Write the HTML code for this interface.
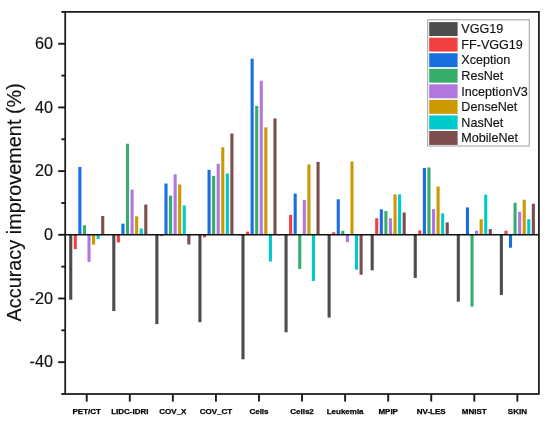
<!DOCTYPE html><html><head><meta charset="utf-8"><title>Accuracy improvement</title><style>
html,body{margin:0;padding:0;background:#fff;width:550px;height:423px;overflow:hidden}
svg{display:block}
text{font-family:"Liberation Sans",Arial,sans-serif;fill:#111;stroke:#111;stroke-width:0.15}
</style></head><body>
<svg width="550" height="423" viewBox="0 0 550 423">
<rect width="550" height="423" fill="#fff"/>
<g shape-rendering="auto">
<rect x="69.19" y="234.80" width="3.1" height="64.96" fill="#4D4D4D"/>
<rect x="73.76" y="234.80" width="3.1" height="14.33" fill="#F14040"/>
<rect x="78.33" y="166.98" width="3.1" height="67.82" fill="#1A6FDF"/>
<rect x="82.90" y="225.25" width="3.1" height="9.55" fill="#37AD6B"/>
<rect x="87.47" y="234.80" width="3.1" height="27.07" fill="#B177DE"/>
<rect x="92.04" y="234.80" width="3.1" height="9.87" fill="#CC9900"/>
<rect x="96.61" y="234.80" width="3.1" height="4.30" fill="#00CBCC"/>
<rect x="101.18" y="216.01" width="3.1" height="18.79" fill="#7D4E4E"/>
<rect x="112.25" y="234.80" width="3.1" height="76.26" fill="#4D4D4D"/>
<rect x="116.82" y="234.80" width="3.1" height="7.64" fill="#F14040"/>
<rect x="121.39" y="223.66" width="3.1" height="11.14" fill="#1A6FDF"/>
<rect x="125.96" y="143.73" width="3.1" height="91.07" fill="#37AD6B"/>
<rect x="130.53" y="189.58" width="3.1" height="45.22" fill="#B177DE"/>
<rect x="135.10" y="216.33" width="3.1" height="18.47" fill="#CC9900"/>
<rect x="139.67" y="228.43" width="3.1" height="6.37" fill="#00CBCC"/>
<rect x="144.24" y="204.55" width="3.1" height="30.25" fill="#7D4E4E"/>
<rect x="155.31" y="234.80" width="3.1" height="89.32" fill="#4D4D4D"/>
<rect x="159.88" y="234.80" width="3.1" height="1.27" fill="#F14040"/>
<rect x="164.45" y="183.53" width="3.1" height="51.27" fill="#1A6FDF"/>
<rect x="169.02" y="195.63" width="3.1" height="39.17" fill="#37AD6B"/>
<rect x="173.59" y="174.30" width="3.1" height="60.50" fill="#B177DE"/>
<rect x="178.16" y="184.49" width="3.1" height="50.31" fill="#CC9900"/>
<rect x="182.73" y="205.51" width="3.1" height="29.29" fill="#00CBCC"/>
<rect x="187.30" y="234.80" width="3.1" height="9.71" fill="#7D4E4E"/>
<rect x="198.38" y="234.80" width="3.1" height="87.41" fill="#4D4D4D"/>
<rect x="202.95" y="234.80" width="3.1" height="2.55" fill="#F14040"/>
<rect x="207.52" y="169.84" width="3.1" height="64.96" fill="#1A6FDF"/>
<rect x="212.09" y="175.89" width="3.1" height="58.91" fill="#37AD6B"/>
<rect x="216.66" y="163.79" width="3.1" height="71.01" fill="#B177DE"/>
<rect x="221.23" y="147.24" width="3.1" height="87.56" fill="#CC9900"/>
<rect x="225.80" y="173.50" width="3.1" height="61.30" fill="#00CBCC"/>
<rect x="230.37" y="133.54" width="3.1" height="101.26" fill="#7D4E4E"/>
<rect x="241.44" y="234.80" width="3.1" height="124.50" fill="#4D4D4D"/>
<rect x="246.01" y="231.62" width="3.1" height="3.18" fill="#F14040"/>
<rect x="250.58" y="58.72" width="3.1" height="176.08" fill="#1A6FDF"/>
<rect x="255.15" y="105.84" width="3.1" height="128.96" fill="#37AD6B"/>
<rect x="259.72" y="80.69" width="3.1" height="154.11" fill="#B177DE"/>
<rect x="264.29" y="127.33" width="3.1" height="107.47" fill="#CC9900"/>
<rect x="268.86" y="234.80" width="3.1" height="26.75" fill="#00CBCC"/>
<rect x="273.43" y="118.42" width="3.1" height="116.38" fill="#7D4E4E"/>
<rect x="284.50" y="234.80" width="3.1" height="97.44" fill="#4D4D4D"/>
<rect x="289.07" y="214.90" width="3.1" height="19.90" fill="#F14040"/>
<rect x="293.64" y="193.57" width="3.1" height="41.23" fill="#1A6FDF"/>
<rect x="298.21" y="234.80" width="3.1" height="34.23" fill="#37AD6B"/>
<rect x="302.79" y="200.09" width="3.1" height="34.71" fill="#B177DE"/>
<rect x="307.36" y="164.43" width="3.1" height="70.37" fill="#CC9900"/>
<rect x="311.93" y="234.80" width="3.1" height="46.17" fill="#00CBCC"/>
<rect x="316.50" y="161.88" width="3.1" height="72.92" fill="#7D4E4E"/>
<rect x="327.57" y="234.80" width="3.1" height="82.79" fill="#4D4D4D"/>
<rect x="332.14" y="232.25" width="3.1" height="2.55" fill="#F14040"/>
<rect x="336.71" y="199.30" width="3.1" height="35.50" fill="#1A6FDF"/>
<rect x="341.28" y="230.82" width="3.1" height="3.98" fill="#37AD6B"/>
<rect x="345.85" y="234.80" width="3.1" height="7.32" fill="#B177DE"/>
<rect x="350.42" y="161.56" width="3.1" height="73.24" fill="#CC9900"/>
<rect x="354.99" y="234.80" width="3.1" height="34.87" fill="#00CBCC"/>
<rect x="359.56" y="234.80" width="3.1" height="39.96" fill="#7D4E4E"/>
<rect x="370.63" y="234.80" width="3.1" height="35.50" fill="#4D4D4D"/>
<rect x="375.20" y="218.24" width="3.1" height="16.56" fill="#F14040"/>
<rect x="379.77" y="209.33" width="3.1" height="25.47" fill="#1A6FDF"/>
<rect x="384.34" y="211.08" width="3.1" height="23.72" fill="#37AD6B"/>
<rect x="388.91" y="218.24" width="3.1" height="16.56" fill="#B177DE"/>
<rect x="393.48" y="194.36" width="3.1" height="40.44" fill="#CC9900"/>
<rect x="398.05" y="194.36" width="3.1" height="40.44" fill="#00CBCC"/>
<rect x="402.62" y="212.51" width="3.1" height="22.29" fill="#7D4E4E"/>
<rect x="413.70" y="234.80" width="3.1" height="43.15" fill="#4D4D4D"/>
<rect x="418.27" y="230.34" width="3.1" height="4.46" fill="#F14040"/>
<rect x="422.84" y="167.93" width="3.1" height="66.87" fill="#1A6FDF"/>
<rect x="427.41" y="167.45" width="3.1" height="67.35" fill="#37AD6B"/>
<rect x="431.98" y="209.01" width="3.1" height="25.79" fill="#B177DE"/>
<rect x="436.55" y="186.56" width="3.1" height="48.24" fill="#CC9900"/>
<rect x="441.12" y="213.31" width="3.1" height="21.49" fill="#00CBCC"/>
<rect x="445.69" y="222.38" width="3.1" height="12.42" fill="#7D4E4E"/>
<rect x="456.76" y="234.80" width="3.1" height="66.87" fill="#4D4D4D"/>
<rect x="461.33" y="233.84" width="3.1" height="0.96" fill="#F14040"/>
<rect x="465.90" y="207.42" width="3.1" height="27.38" fill="#1A6FDF"/>
<rect x="470.47" y="234.80" width="3.1" height="71.80" fill="#37AD6B"/>
<rect x="475.04" y="230.66" width="3.1" height="4.14" fill="#B177DE"/>
<rect x="479.61" y="219.20" width="3.1" height="15.60" fill="#CC9900"/>
<rect x="484.18" y="194.68" width="3.1" height="40.12" fill="#00CBCC"/>
<rect x="488.75" y="229.07" width="3.1" height="5.73" fill="#7D4E4E"/>
<rect x="499.82" y="234.80" width="3.1" height="60.18" fill="#4D4D4D"/>
<rect x="504.39" y="230.66" width="3.1" height="4.14" fill="#F14040"/>
<rect x="508.96" y="234.80" width="3.1" height="12.90" fill="#1A6FDF"/>
<rect x="513.53" y="202.80" width="3.1" height="32.00" fill="#37AD6B"/>
<rect x="518.10" y="211.71" width="3.1" height="23.09" fill="#B177DE"/>
<rect x="522.67" y="199.77" width="3.1" height="35.03" fill="#CC9900"/>
<rect x="527.24" y="219.20" width="3.1" height="15.60" fill="#00CBCC"/>
<rect x="531.81" y="203.75" width="3.1" height="31.05" fill="#7D4E4E"/>
</g>
<line x1="65.2" y1="234.8" x2="538.9" y2="234.8" stroke="#111" stroke-width="1.6"/>
<rect x="65.2" y="11.9" width="473.70" height="382.10" fill="none" stroke="#1a1a1a" stroke-width="1.75"/>
<line x1="61.40" y1="394.01" x2="65.2" y2="394.01" stroke="#1a1a1a" stroke-width="1.9"/>
<line x1="58.20" y1="362.17" x2="65.2" y2="362.17" stroke="#1a1a1a" stroke-width="1.9"/>
<text x="53" y="367.37" font-size="16.2" text-anchor="end">-40</text>
<line x1="61.40" y1="330.33" x2="65.2" y2="330.33" stroke="#1a1a1a" stroke-width="1.9"/>
<line x1="58.20" y1="298.48" x2="65.2" y2="298.48" stroke="#1a1a1a" stroke-width="1.9"/>
<text x="53" y="303.68" font-size="16.2" text-anchor="end">-20</text>
<line x1="61.40" y1="266.64" x2="65.2" y2="266.64" stroke="#1a1a1a" stroke-width="1.9"/>
<line x1="58.20" y1="234.80" x2="65.2" y2="234.80" stroke="#1a1a1a" stroke-width="1.9"/>
<text x="53" y="240.00" font-size="16.2" text-anchor="end">0</text>
<line x1="61.40" y1="202.96" x2="65.2" y2="202.96" stroke="#1a1a1a" stroke-width="1.9"/>
<line x1="58.20" y1="171.12" x2="65.2" y2="171.12" stroke="#1a1a1a" stroke-width="1.9"/>
<text x="53" y="176.32" font-size="16.2" text-anchor="end">20</text>
<line x1="61.40" y1="139.28" x2="65.2" y2="139.28" stroke="#1a1a1a" stroke-width="1.9"/>
<line x1="58.20" y1="107.43" x2="65.2" y2="107.43" stroke="#1a1a1a" stroke-width="1.9"/>
<text x="53" y="112.63" font-size="16.2" text-anchor="end">40</text>
<line x1="61.40" y1="75.59" x2="65.2" y2="75.59" stroke="#1a1a1a" stroke-width="1.9"/>
<line x1="58.20" y1="43.75" x2="65.2" y2="43.75" stroke="#1a1a1a" stroke-width="1.9"/>
<text x="53" y="48.95" font-size="16.2" text-anchor="end">60</text>
<line x1="61.40" y1="11.91" x2="65.2" y2="11.91" stroke="#1a1a1a" stroke-width="1.9"/>
<line x1="86.73" y1="394.0" x2="86.73" y2="401.6" stroke="#1a1a1a" stroke-width="1.9"/>
<text x="86.73" y="414.2" font-size="8" font-weight="bold" text-anchor="middle" style="fill:#000;stroke:#000;stroke-width:0.25">PET/CT</text>
<line x1="129.80" y1="394.0" x2="129.80" y2="401.6" stroke="#1a1a1a" stroke-width="1.9"/>
<text x="129.80" y="414.2" font-size="8" font-weight="bold" text-anchor="middle" style="fill:#000;stroke:#000;stroke-width:0.25">LIDC-IDRI</text>
<line x1="172.86" y1="394.0" x2="172.86" y2="401.6" stroke="#1a1a1a" stroke-width="1.9"/>
<text x="172.86" y="414.2" font-size="8" font-weight="bold" text-anchor="middle" style="fill:#000;stroke:#000;stroke-width:0.25">COV_X</text>
<line x1="215.92" y1="394.0" x2="215.92" y2="401.6" stroke="#1a1a1a" stroke-width="1.9"/>
<text x="215.92" y="414.2" font-size="8" font-weight="bold" text-anchor="middle" style="fill:#000;stroke:#000;stroke-width:0.25">COV_CT</text>
<line x1="258.99" y1="394.0" x2="258.99" y2="401.6" stroke="#1a1a1a" stroke-width="1.9"/>
<text x="258.99" y="414.2" font-size="8" font-weight="bold" text-anchor="middle" style="fill:#000;stroke:#000;stroke-width:0.25">Cells</text>
<line x1="302.05" y1="394.0" x2="302.05" y2="401.6" stroke="#1a1a1a" stroke-width="1.9"/>
<text x="302.05" y="414.2" font-size="8" font-weight="bold" text-anchor="middle" style="fill:#000;stroke:#000;stroke-width:0.25">Cells2</text>
<line x1="345.11" y1="394.0" x2="345.11" y2="401.6" stroke="#1a1a1a" stroke-width="1.9"/>
<text x="345.11" y="414.2" font-size="8" font-weight="bold" text-anchor="middle" style="fill:#000;stroke:#000;stroke-width:0.25">Leukemia</text>
<line x1="388.18" y1="394.0" x2="388.18" y2="401.6" stroke="#1a1a1a" stroke-width="1.9"/>
<text x="388.18" y="414.2" font-size="8" font-weight="bold" text-anchor="middle" style="fill:#000;stroke:#000;stroke-width:0.25">MPIP</text>
<line x1="431.24" y1="394.0" x2="431.24" y2="401.6" stroke="#1a1a1a" stroke-width="1.9"/>
<text x="431.24" y="414.2" font-size="8" font-weight="bold" text-anchor="middle" style="fill:#000;stroke:#000;stroke-width:0.25">NV-LES</text>
<line x1="474.30" y1="394.0" x2="474.30" y2="401.6" stroke="#1a1a1a" stroke-width="1.9"/>
<text x="474.30" y="414.2" font-size="8" font-weight="bold" text-anchor="middle" style="fill:#000;stroke:#000;stroke-width:0.25">MNIST</text>
<line x1="517.37" y1="394.0" x2="517.37" y2="401.6" stroke="#1a1a1a" stroke-width="1.9"/>
<text x="517.37" y="414.2" font-size="8" font-weight="bold" text-anchor="middle" style="fill:#000;stroke:#000;stroke-width:0.25">SKIN</text>
<text transform="translate(21.1,321.4) rotate(-90)" font-size="19.85">Accuracy improvement (%)</text>
<rect x="427.7" y="19.8" width="101.6" height="126.2" fill="#fff" stroke="#a0a0a0" stroke-width="1"/>
<rect x="429.2" y="22.10" width="28.4" height="13.9" fill="#4D4D4D"/>
<text x="461.3" y="33.30" font-size="12.6">VGG19</text>
<rect x="429.2" y="37.66" width="28.4" height="13.9" fill="#F14040"/>
<text x="461.3" y="48.86" font-size="12.6">FF-VGG19</text>
<rect x="429.2" y="53.22" width="28.4" height="13.9" fill="#1A6FDF"/>
<text x="461.3" y="64.42" font-size="12.6">Xception</text>
<rect x="429.2" y="68.78" width="28.4" height="13.9" fill="#37AD6B"/>
<text x="461.3" y="79.98" font-size="12.6">ResNet</text>
<rect x="429.2" y="84.34" width="28.4" height="13.9" fill="#B177DE"/>
<text x="461.3" y="95.54" font-size="12.6">InceptionV3</text>
<rect x="429.2" y="99.90" width="28.4" height="13.9" fill="#CC9900"/>
<text x="461.3" y="111.10" font-size="12.6">DenseNet</text>
<rect x="429.2" y="115.46" width="28.4" height="13.9" fill="#00CBCC"/>
<text x="461.3" y="126.66" font-size="12.6">NasNet</text>
<rect x="429.2" y="131.02" width="28.4" height="13.9" fill="#7D4E4E"/>
<text x="461.3" y="142.22" font-size="12.6">MobileNet</text>
</svg></body></html>
